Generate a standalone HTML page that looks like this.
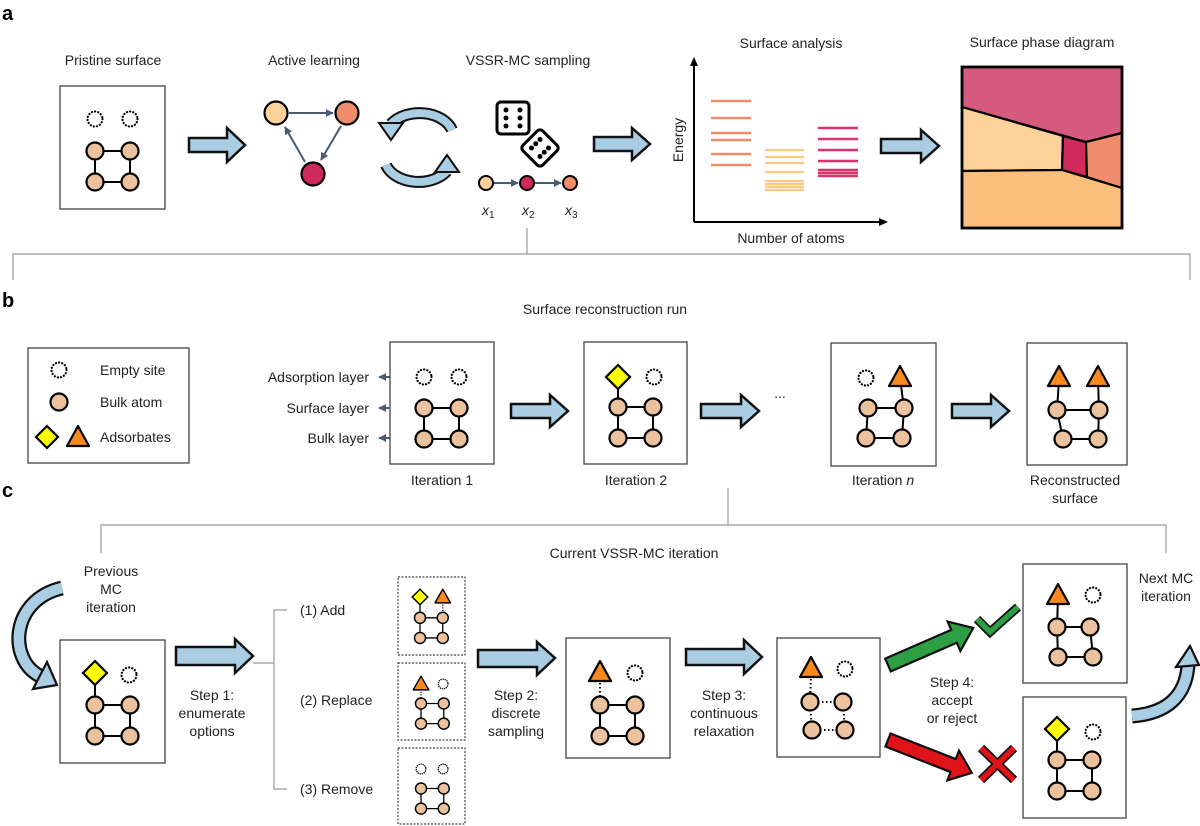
<!DOCTYPE html>
<html><head><meta charset="utf-8"><style>
html,body{margin:0;padding:0;background:#fff}
svg{display:block}
text{font-family:"Liberation Sans",sans-serif;fill:#222;font-size:14px}
.at{fill:#ebc29d;stroke:#000;stroke-width:2.2}
.em{fill:none;stroke:#000;stroke-width:2.2;stroke-dasharray:0.1 3.1;stroke-linecap:round}
.bd{stroke:#000;stroke-width:2}
.db{stroke:#000;stroke-width:2;stroke-dasharray:1.5 2.5}
.box{fill:#fff;stroke:#444;stroke-width:1.3}
.dbox{fill:#fff;stroke:#444;stroke-width:1.2;stroke-dasharray:2 1.5}
.fa{fill:#a9cde3;stroke:#111;stroke-width:2.5;stroke-linejoin:miter}
.dia{fill:#ffff00;stroke:#000;stroke-width:2.2}
.tri{fill:#f7891f;stroke:#000;stroke-width:2.2;stroke-linejoin:round}
.gl{stroke:#999;stroke-width:1.2;fill:none}
.sm{stroke:#4a5a70;stroke-width:2;fill:none}
.lb{font-weight:bold;font-size:20px;fill:#000}
</style></head><body>
<svg width="1200" height="826" viewBox="0 0 1200 826" xmlns="http://www.w3.org/2000/svg">
<defs>
<g id="m">
<line class="bd" x1="0" y1="32" x2="35" y2="32"/><line class="bd" x1="0" y1="32" x2="0" y2="63"/>
<line class="bd" x1="35" y1="32" x2="35" y2="63"/><line class="bd" x1="0" y1="63" x2="35" y2="63"/>
<circle class="at" cx="0" cy="32" r="8.5"/><circle class="at" cx="35" cy="32" r="8.5"/>
<circle class="at" cx="0" cy="63" r="8.5"/><circle class="at" cx="35" cy="63" r="8.5"/>
</g>
<g id="e0"><circle class="em" cx="0" cy="0" r="7.5"/><circle class="em" cx="35" cy="0" r="7.5"/></g>
<marker id="ah" viewBox="0 0 10 10" refX="9" refY="5" markerWidth="4" markerHeight="4" orient="auto"><path d="M0,0 L10,5 L0,10 z" fill="#4a5a70"/></marker>
</defs>

<!-- ===== Panel a ===== -->
<text class="lb" x="2" y="20">a</text>
<text x="113" y="65" text-anchor="middle">Pristine surface</text>
<text x="314" y="65" text-anchor="middle">Active learning</text>
<text x="528" y="65" text-anchor="middle">VSSR-MC sampling</text>
<text x="791" y="48" text-anchor="middle">Surface analysis</text>
<text x="1042" y="47" text-anchor="middle">Surface phase diagram</text>

<rect class="box" x="60" y="86" width="105" height="123"/>
<use href="#e0" x="95" y="119"/><use href="#m" x="95" y="119"/>

<polygon class="fa" points="189,138 227,138 227,128 245,145 227,162 227,152 189,152"/>

<line class="sm" x1="289" y1="113" x2="333" y2="113" marker-end="url(#ah)"/>
<line class="sm" x1="341" y1="126" x2="321" y2="160" marker-end="url(#ah)"/>
<line class="sm" x1="305" y1="162" x2="285" y2="127" marker-end="url(#ah)"/>
<circle cx="276" cy="113" r="11.5" fill="#fdd29a" stroke="#000" stroke-width="2.2"/>
<circle cx="347" cy="113" r="11.5" fill="#ef8c6c" stroke="#000" stroke-width="2.2"/>
<circle cx="313" cy="174" r="11.5" fill="#d02a5a" stroke="#000" stroke-width="2.2"/>

<!-- cycle arrows -->
<path d="M452,130 A34 24 0 0 0 391,124" fill="none" stroke="#111" stroke-width="12"/>
<path d="M452,130 A34 24 0 0 0 391,124" fill="none" stroke="#a9cde3" stroke-width="8"/>
<polygon points="379,123 403,123 391,140" fill="#a9cde3" stroke="#111" stroke-width="2"/>
<path d="M386,165 A34 24 0 0 0 447,171" fill="none" stroke="#111" stroke-width="12"/>
<path d="M386,165 A34 24 0 0 0 447,171" fill="none" stroke="#a9cde3" stroke-width="8"/>
<polygon points="435,172 459,172 447,155" fill="#a9cde3" stroke="#111" stroke-width="2"/>

<!-- dice -->
<rect x="497" y="102" width="32" height="32" rx="4" fill="#fff" stroke="#000" stroke-width="3"/>
<g fill="#000"><circle cx="506" cy="110" r="2.5"/><circle cx="520" cy="110" r="2.5"/><circle cx="506" cy="118" r="2.5"/><circle cx="520" cy="118" r="2.5"/><circle cx="506" cy="126" r="2.5"/><circle cx="520" cy="126" r="2.5"/></g>
<g transform="translate(540,148) rotate(45)">
<rect x="-14" y="-14" width="28" height="28" rx="4" fill="#fff" stroke="#000" stroke-width="3"/>
<g fill="#000"><circle cx="-6" cy="-6" r="2.5"/><circle cx="6" cy="-6" r="2.5"/><circle cx="-6" cy="0" r="2.5"/><circle cx="6" cy="0" r="2.5"/><circle cx="-6" cy="6" r="2.5"/><circle cx="6" cy="6" r="2.5"/></g>
</g>
<line class="sm" x1="494" y1="183" x2="518" y2="183" marker-end="url(#ah)"/>
<line class="sm" x1="535" y1="183" x2="561" y2="183" marker-end="url(#ah)"/>
<circle cx="486" cy="183" r="7" fill="#fdd29a" stroke="#000" stroke-width="2"/>
<circle cx="527" cy="183" r="7" fill="#d02a5a" stroke="#000" stroke-width="2"/>
<circle cx="570" cy="183" r="7" fill="#ef8c6c" stroke="#000" stroke-width="2"/>
<text x="482" y="215" font-style="italic">x<tspan font-size="10" dy="3" font-style="normal">1</tspan></text>
<text x="522" y="215" font-style="italic">x<tspan font-size="10" dy="3" font-style="normal">2</tspan></text>
<text x="565" y="215" font-style="italic">x<tspan font-size="10" dy="3" font-style="normal">3</tspan></text>

<polygon class="fa" points="594,137 632,137 632,128 650,144 632,160 632,151 594,151"/>

<!-- plot -->
<line x1="694" y1="222" x2="694" y2="64" stroke="#000" stroke-width="2"/>
<polygon points="694,57 690,66 698,66" fill="#000"/>
<line x1="694" y1="222" x2="880" y2="222" stroke="#000" stroke-width="2"/>
<polygon points="888,222 879,218 879,226" fill="#000"/>
<text x="0" y="0" transform="translate(683,140) rotate(-90)" text-anchor="middle">Energy</text>
<text x="791" y="243" text-anchor="middle">Number of atoms</text>
<g stroke="#ef8c6c" stroke-width="2.4">
<line x1="711" x2="751" y1="101" y2="101"/><line x1="711" x2="751" y1="118" y2="118"/><line x1="711" x2="751" y1="133" y2="133"/><line x1="711" x2="751" y1="140" y2="140"/><line x1="711" x2="751" y1="154" y2="154"/><line x1="711" x2="751" y1="165" y2="165"/>
</g>
<g stroke="#fdc97e" stroke-width="2.2">
<line x1="765" x2="804" y1="150" y2="150"/><line x1="765" x2="804" y1="157" y2="157"/><line x1="765" x2="804" y1="163" y2="163"/><line x1="765" x2="804" y1="172" y2="172"/><line x1="765" x2="804" y1="181" y2="181"/><line x1="765" x2="804" y1="184" y2="184"/><line x1="765" x2="804" y1="187" y2="187"/><line x1="765" x2="804" y1="190" y2="190"/>
</g>
<g stroke="#d9336a" stroke-width="2.4">
<line x1="818" x2="858" y1="128" y2="128"/><line x1="818" x2="858" y1="139" y2="139"/><line x1="818" x2="858" y1="150" y2="150"/><line x1="818" x2="858" y1="161" y2="161"/><line x1="818" x2="858" y1="170" y2="170"/><line x1="818" x2="858" y1="173" y2="173"/><line x1="818" x2="858" y1="176" y2="176"/>
</g>

<polygon class="fa" points="881,139 921,139 921,130 939,146 921,162 921,153 881,153"/>

<!-- phase diagram -->
<g stroke="#000" stroke-width="2.2" stroke-linejoin="round">
<polygon points="962,67 1122,67 1122,133 1086,142 962,107" fill="#d65a7e"/>
<polygon points="962,107 1063,136 1062,170 962,171" fill="#fdd29a"/>
<polygon points="1063,136 1086,142 1087,177 1062,170" fill="#d02a5a"/>
<polygon points="1086,142 1122,133 1122,188 1087,177" fill="#ef8c6c"/>
<polygon points="962,171 1062,170 1122,188 1122,228 962,228" fill="#fbbf7c"/>
</g>
<rect x="962" y="67" width="160" height="161" fill="none" stroke="#000" stroke-width="2.8"/>

<!-- bracket a -->
<path class="gl" d="M527,228 V254 M13,280 V254 H1190 V280"/>

<!-- ===== Panel b ===== -->
<text class="lb" x="2" y="307">b</text>
<text x="605" y="314" text-anchor="middle">Surface reconstruction run</text>
<rect class="box" x="28" y="348" width="161" height="115"/>
<circle class="em" cx="59" cy="370" r="7.5"/>
<circle class="at" cx="59" cy="402" r="8.5"/>
<polygon class="dia" points="47,426 58,437 47,448 36,437"/>
<polygon class="tri" points="78,426 89,446 67,446"/>
<text x="100" y="375">Empty site</text>
<text x="100" y="407">Bulk atom</text>
<text x="100" y="442">Adsorbates</text>

<text x="369" y="382" text-anchor="end">Adsorption layer</text>
<text x="369" y="413" text-anchor="end">Surface layer</text>
<text x="369" y="443" text-anchor="end">Bulk layer</text>
<line class="sm" x1="406" y1="377" x2="379" y2="377" marker-end="url(#ah)"/>
<line class="sm" x1="406" y1="408" x2="379" y2="408" marker-end="url(#ah)"/>
<line class="sm" x1="406" y1="438" x2="379" y2="438" marker-end="url(#ah)"/>

<rect class="box" x="390" y="342" width="104" height="122"/>
<use href="#e0" x="424" y="377"/><use href="#m" x="424" y="376"/>
<text x="442" y="485" text-anchor="middle">Iteration 1</text>

<polygon class="fa" points="511,404 550,404 550,395 568,411 550,427 550,418 511,418"/>

<rect class="box" x="584" y="342" width="103" height="122"/>
<line class="bd" x1="618" y1="377" x2="618" y2="407"/>
<use href="#m" x="618" y="375"/>
<polygon class="dia" points="618,365 630,377 618,389 606,377"/>
<circle class="em" cx="654" cy="377" r="7.5"/>
<text x="636" y="485" text-anchor="middle">Iteration 2</text>

<polygon class="fa" points="701,404 741,404 741,395 759,411 741,427 741,418 701,418"/>
<text x="780" y="398" text-anchor="middle" font-size="12">...</text>

<rect class="box" x="831" y="343" width="105" height="123"/>
<g>
<line class="bd" x1="868" y1="408" x2="904" y2="408"/><line class="bd" x1="868" y1="408" x2="866" y2="438"/>
<line class="bd" x1="904" y1="408" x2="902" y2="438"/><line class="bd" x1="866" y1="438" x2="902" y2="438"/>
<line class="bd" x1="900" y1="378" x2="904" y2="408"/>
<circle class="at" cx="868" cy="408" r="8.5"/><circle class="at" cx="904" cy="408" r="8.5"/>
<circle class="at" cx="866" cy="438" r="8.5"/><circle class="at" cx="902" cy="438" r="8.5"/>
<circle class="em" cx="866" cy="378" r="7.5"/>
<polygon class="tri" points="900,366 911,386 889,386"/>
</g>
<text x="883" y="485" text-anchor="middle">Iteration <tspan font-style="italic">n</tspan></text>

<polygon class="fa" points="952,404 991,404 991,395 1009,411 991,427 991,418 952,418"/>

<rect class="box" x="1027" y="343" width="100" height="122"/>
<g>
<line class="bd" x1="1057" y1="410" x2="1099" y2="410"/><line class="bd" x1="1057" y1="410" x2="1063" y2="439"/>
<line class="bd" x1="1099" y1="410" x2="1098" y2="439"/><line class="bd" x1="1063" y1="439" x2="1098" y2="439"/>
<line class="bd" x1="1059" y1="380" x2="1057" y2="410"/><line class="bd" x1="1098" y1="380" x2="1099" y2="410"/>
<circle class="at" cx="1057" cy="410" r="8.5"/><circle class="at" cx="1099" cy="410" r="8.5"/>
<circle class="at" cx="1063" cy="439" r="8.5"/><circle class="at" cx="1098" cy="439" r="8.5"/>
<polygon class="tri" points="1059,366 1070,386 1048,386"/>
<polygon class="tri" points="1098,366 1109,386 1087,386"/>
</g>
<text x="1075" y="485" text-anchor="middle">Reconstructed</text>
<text x="1075" y="503" text-anchor="middle">surface</text>

<!-- bracket b -->
<path class="gl" d="M728,488 V525 M101,553 V525 H1166 V553"/>

<!-- ===== Panel c ===== -->
<text class="lb" x="2" y="497">c</text>
<text x="634" y="558" text-anchor="middle">Current VSSR-MC iteration</text>
<text x="111" y="576" text-anchor="middle">Previous</text>
<text x="111" y="594" text-anchor="middle">MC</text>
<text x="111" y="612" text-anchor="middle">iteration</text>

<path d="M62,588 C10,600 8,660 40,676" fill="none" stroke="#111" stroke-width="15"/>
<path d="M62,588 C10,600 8,660 40,676" fill="none" stroke="#a9cde3" stroke-width="10.5"/>
<polygon points="47,662 33,689 57,685" fill="#a9cde3" stroke="#111" stroke-width="2.2"/>

<rect class="box" x="60" y="640" width="105" height="123"/>
<line class="bd" x1="95" y1="673" x2="95" y2="705"/>
<use href="#m" x="95" y="673"/>
<polygon class="dia" points="95,661 107,673 95,685 83,673"/>
<circle class="em" cx="129" cy="675" r="7.5"/>

<polygon class="fa" points="176,647 235,647 235,639 253,656 235,673 235,665 176,665"/>
<text x="212" y="700" text-anchor="middle">Step 1:</text>
<text x="212" y="718" text-anchor="middle">enumerate</text>
<text x="212" y="736" text-anchor="middle">options</text>

<path class="gl" d="M253,663 H274 M287,610 H274 V789 H287"/>
<text x="300" y="615">(1) Add</text>
<text x="300" y="705">(2) Replace</text>
<text x="300" y="794">(3) Remove</text>

<rect class="dbox" x="398" y="577" width="67" height="78"/>
<g transform="translate(420,597) scale(0.65)">
<line class="bd" x1="0" y1="0" x2="0" y2="32"/><line class="db" x1="35" y1="0" x2="35" y2="32"/>
<use href="#m"/>
<polygon class="dia" points="0,-12 12,0 0,12 -12,0"/>
<polygon class="tri" points="35,-12 47,9 23,9"/>
</g>
<rect class="dbox" x="398" y="663" width="67" height="77"/>
<g transform="translate(421,684) scale(0.65)">
<line class="db" x1="0" y1="0" x2="0" y2="30"/>
<use href="#m" y="-2"/>
<polygon class="tri" points="0,-12 12,9 -12,9"/>
<circle class="em" cx="34" cy="0" r="7.5" stroke-dasharray="0.1 2.5" stroke-width="1.6"/>
</g>
<rect class="dbox" x="398" y="748" width="67" height="76"/>
<g transform="translate(421,769) scale(0.65)">
<use href="#m" y="-2"/>
<circle class="em" cx="0" cy="0" r="7.5" stroke-dasharray="0.1 2.5" stroke-width="1.6"/>
<circle class="em" cx="34" cy="0" r="7.5" stroke-dasharray="0.1 2.5" stroke-width="1.6"/>
</g>

<polygon class="fa" points="478,650 537,650 537,642 555,658 537,675 537,667 478,667"/>
<text x="516" y="700" text-anchor="middle">Step 2:</text>
<text x="516" y="718" text-anchor="middle">discrete</text>
<text x="516" y="736" text-anchor="middle">sampling</text>

<rect class="box" x="566" y="638" width="104" height="120"/>
<line class="db" x1="600" y1="675" x2="600" y2="705"/>
<use href="#m" x="600" y="673"/>
<polygon class="tri" points="600,661 611,681 589,681"/>
<circle class="em" cx="635" cy="673" r="7.5"/>

<polygon class="fa" points="686,649 744,649 744,640 762,657 744,674 744,665 686,665"/>
<text x="724" y="700" text-anchor="middle">Step 3:</text>
<text x="724" y="718" text-anchor="middle">continuous</text>
<text x="724" y="736" text-anchor="middle">relaxation</text>

<rect class="box" x="777" y="638" width="103" height="119"/>
<g>
<line class="db" x1="811" y1="675" x2="810" y2="702"/>
<line class="db" x1="810" y1="702" x2="843" y2="702"/><line class="db" x1="810" y1="702" x2="812" y2="730"/>
<line class="db" x1="843" y1="702" x2="845" y2="730"/><line class="db" x1="812" y1="730" x2="845" y2="730"/>
<circle class="at" cx="810" cy="702" r="8.5"/><circle class="at" cx="843" cy="702" r="8.5"/>
<circle class="at" cx="812" cy="730" r="8.5"/><circle class="at" cx="845" cy="730" r="8.5"/>
<polygon class="tri" points="811,657 822,677 800,677"/>
<circle class="em" cx="845" cy="669" r="7.5"/>
</g>

<!-- green / red arrows -->
<g transform="translate(888,665) rotate(-23.5)">
<polygon points="0,-7 72,-7 72,-16 93,0 72,16 72,7 0,7" fill="#2e9e45" stroke="#111" stroke-width="2.2"/>
</g>
<polyline points="977,619 990,632 1018,607" fill="none" stroke="#111" stroke-width="9"/>
<polyline points="977,619 990,632 1018,607" fill="none" stroke="#2e9e45" stroke-width="5.5"/>
<g transform="translate(888,740) rotate(21.4)">
<polygon points="0,-7 70,-7 70,-16 90,0 70,16 70,7 0,7" fill="#e0131b" stroke="#111" stroke-width="2.2"/>
</g>
<path d="M981,748 L1014,780 M1014,748 L981,780" stroke="#111" stroke-width="9"/>
<path d="M981,748 L1014,780 M1014,748 L981,780" stroke="#e0131b" stroke-width="5.5"/>
<text x="952" y="687" text-anchor="middle">Step 4:</text>
<text x="952" y="705" text-anchor="middle">accept</text>
<text x="952" y="723" text-anchor="middle">or reject</text>

<rect class="box" x="1023" y="564" width="104" height="119"/>
<g>
<line class="bd" x1="1058" y1="597" x2="1057" y2="627"/>
<line class="bd" x1="1057" y1="627" x2="1090" y2="627"/><line class="bd" x1="1057" y1="627" x2="1058" y2="657"/>
<line class="bd" x1="1090" y1="627" x2="1093" y2="657"/><line class="bd" x1="1058" y1="657" x2="1093" y2="657"/>
<circle class="at" cx="1057" cy="627" r="8.5"/><circle class="at" cx="1090" cy="627" r="8.5"/>
<circle class="at" cx="1058" cy="657" r="8.5"/><circle class="at" cx="1093" cy="657" r="8.5"/>
<polygon class="tri" points="1058,584 1069,604 1047,604"/>
<circle class="em" cx="1093" cy="595" r="7.5"/>
</g>

<rect class="box" x="1023" y="697" width="103" height="121"/>
<line class="bd" x1="1057" y1="729" x2="1057" y2="760"/>
<use href="#m" x="1057" y="728"/>
<polygon class="dia" points="1057,717 1069,729 1057,741 1045,729"/>
<circle class="em" cx="1093" cy="732" r="7.5"/>

<text x="1166" y="583" text-anchor="middle">Next MC</text>
<text x="1166" y="601" text-anchor="middle">iteration</text>
<path d="M1132,716 Q1184,712 1188,666" fill="none" stroke="#111" stroke-width="15"/>
<path d="M1132,716 Q1184,712 1188,666" fill="none" stroke="#a9cde3" stroke-width="10.5"/>
<polygon points="1176,667 1199,665 1190,646" fill="#a9cde3" stroke="#111" stroke-width="2.2"/>
</svg>
</body></html>
